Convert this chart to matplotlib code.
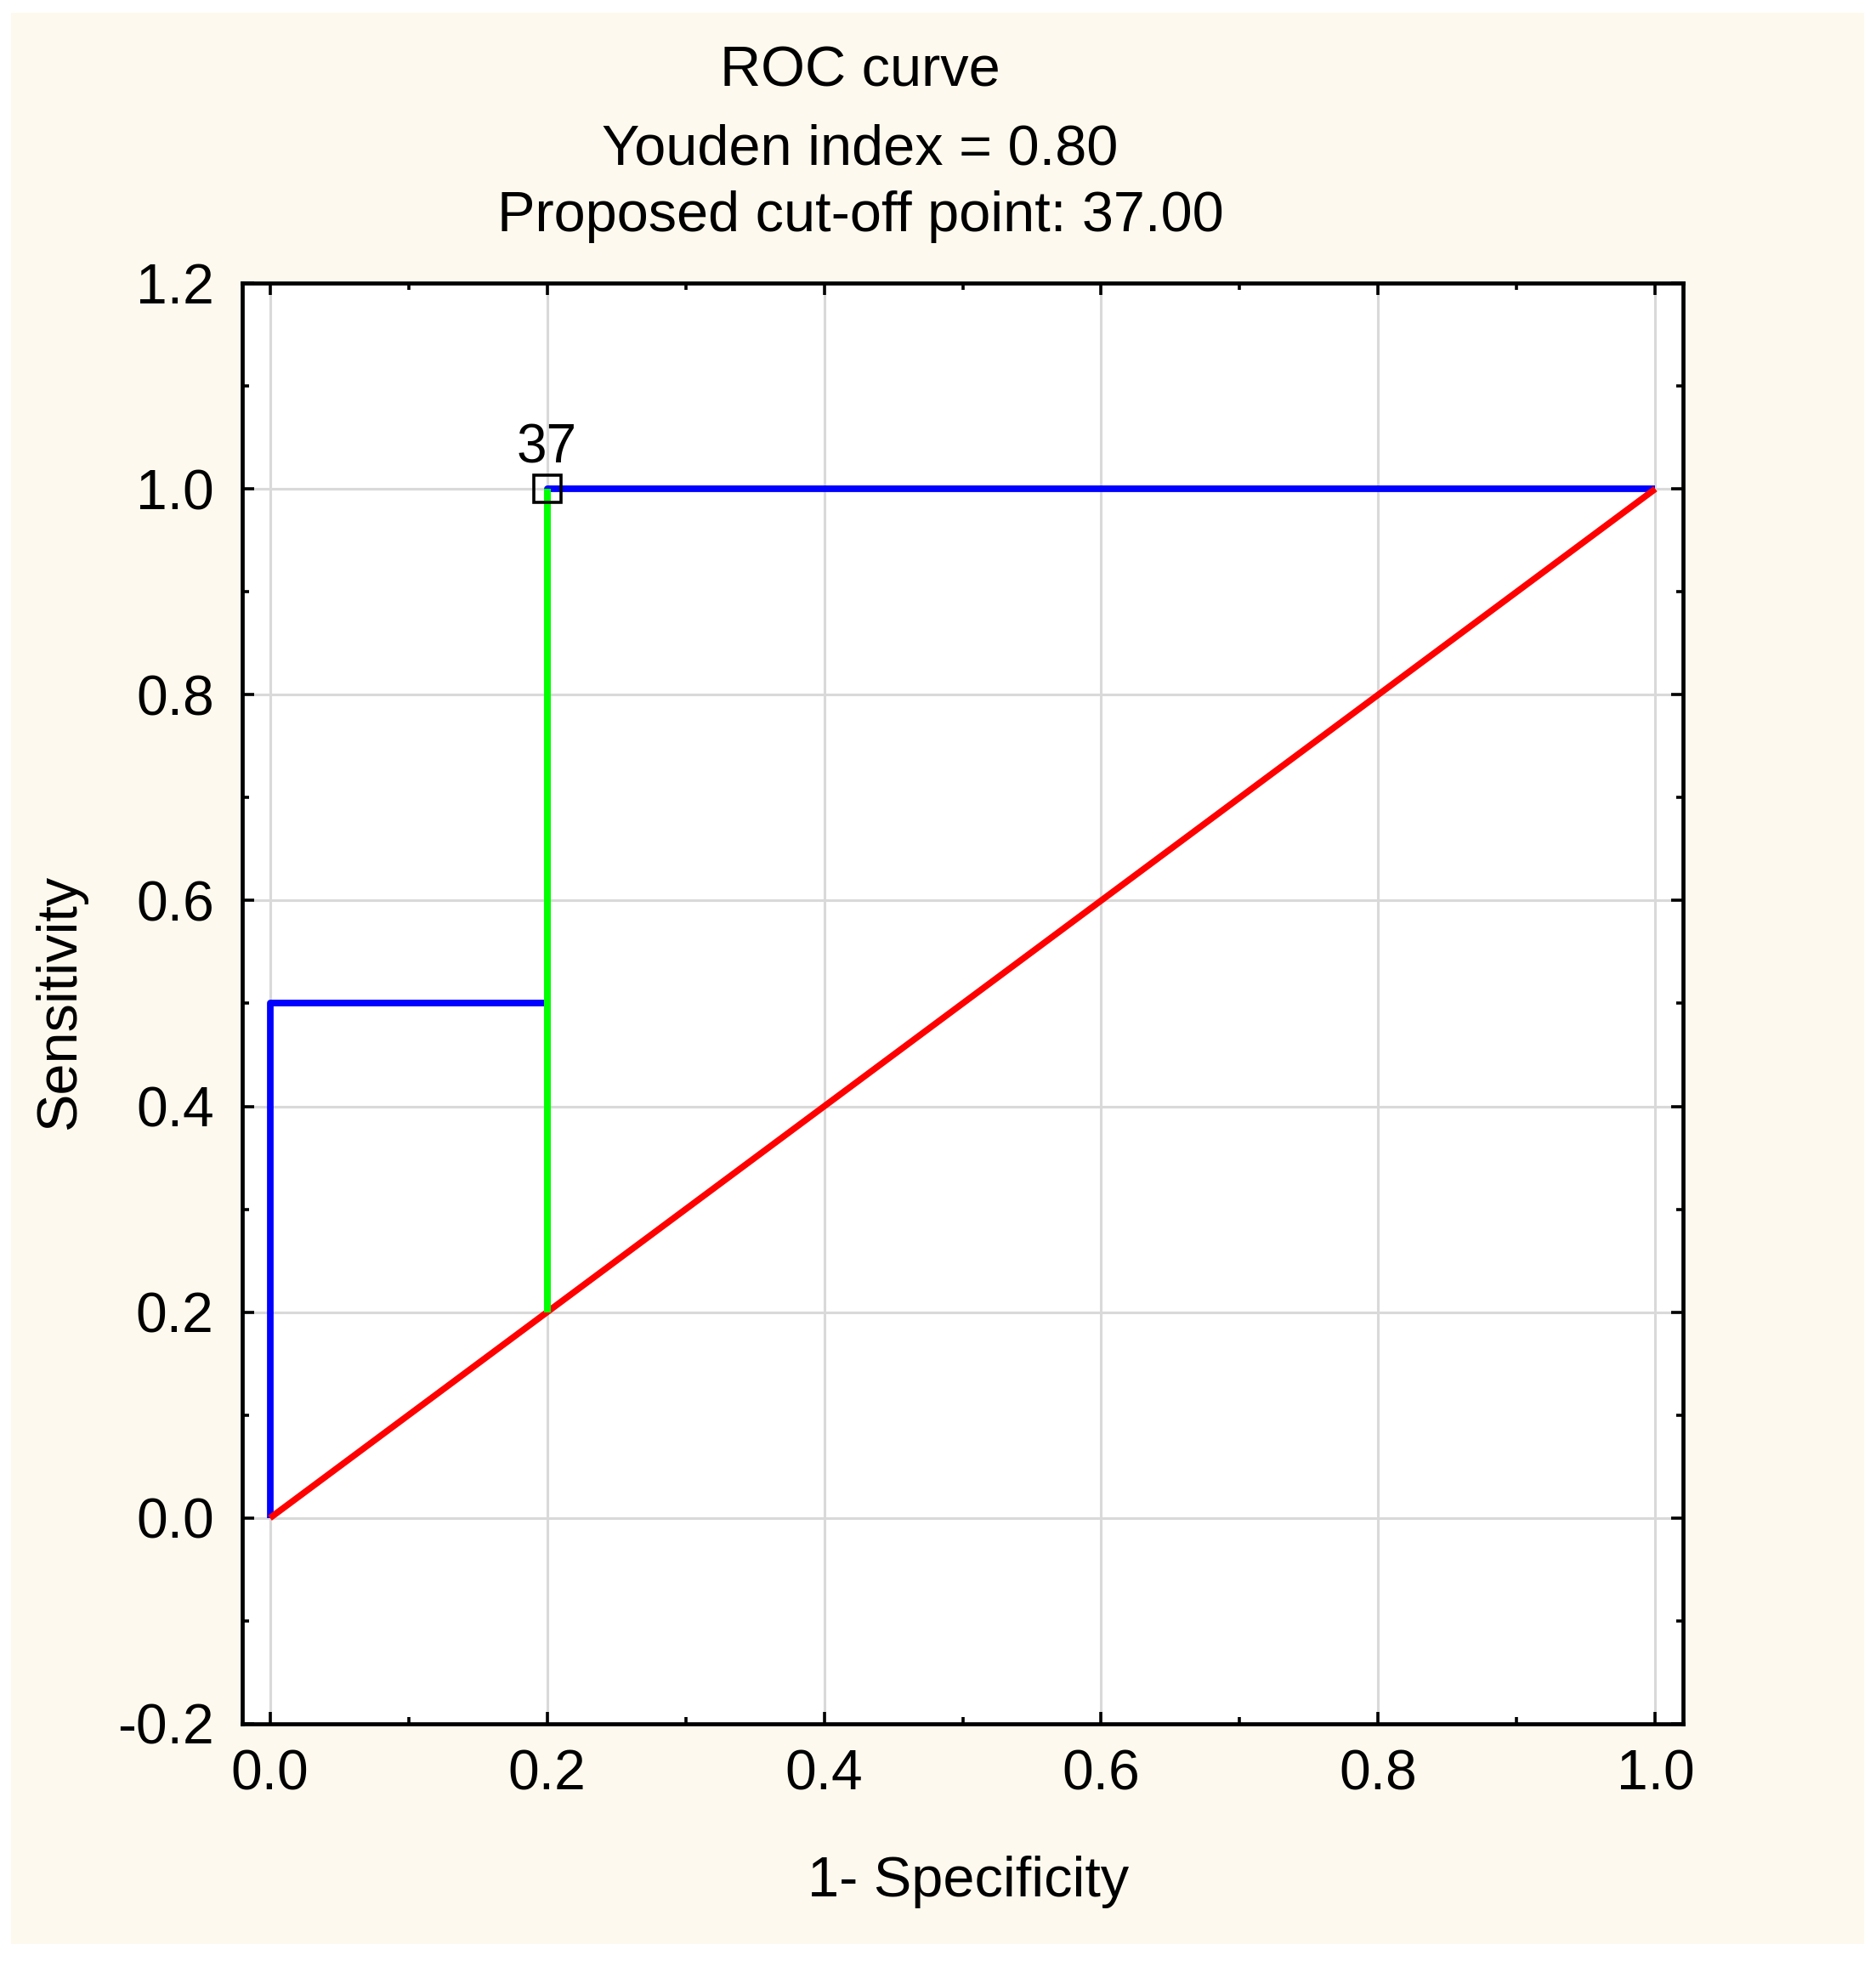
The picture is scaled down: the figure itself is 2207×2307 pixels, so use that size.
import matplotlib
matplotlib.use('Agg')
import matplotlib.pyplot as plt
from matplotlib.patches import Rectangle
from matplotlib.ticker import MultipleLocator

plt.rcParams['font.family'] = ['Liberation Sans', 'DejaVu Sans']

CREAM = '#FDF9EE'

# ROC data
roc_fpr = [0.0, 0.0, 0.2, 0.2, 1.0]
roc_tpr = [0.0, 0.5, 0.5, 1.0, 1.0]
diag_x = [0.0, 1.0]
diag_y = [0.0, 1.0]
youden_x = [0.2, 0.2]
youden_y = [0.2, 1.0]
cut_x, cut_y, cut_label = 0.2, 1.0, '37'
title_lines = ['ROC curve', 'Youden index = 0.80', 'Proposed cut-off point: 37.00']

W, H = 2207, 2307
fig = plt.figure(figsize=(W / 100, H / 100), dpi=100)
fig.patch.set_facecolor('white')
fig.add_artist(Rectangle((13 / W, 1 - 2287 / H), (2193 - 13) / W, (2287 - 15) / H,
                         transform=fig.transFigure, facecolor=CREAM, edgecolor='none', zorder=0))

L, R, T, B = 285, 1980, 333, 2028
ax = fig.add_axes([L / W, 1 - B / H, (R - L) / W, (B - T) / H])
ax.set_facecolor('white')

ax.plot(roc_fpr, roc_tpr, color='#0000FF', lw=5.6, solid_capstyle='butt', zorder=3)
ax.plot(diag_x, diag_y, color='#FF0000', lw=5.4, solid_capstyle='butt', zorder=4)
ax.plot(youden_x, youden_y, color='#00FF00', lw=5.8, solid_capstyle='butt', zorder=5)
ax.plot([cut_x], [cut_y], marker='s', ms=23, mfc='none', mec='black', mew=2.6, zorder=6)
ax.annotate(cut_label, (cut_x, cut_y), xytext=(0, 13), textcoords='offset points',
            ha='center', va='bottom', fontsize=46, zorder=7)

ax.set_xlim(-0.02, 1.02)
ax.set_ylim(-0.2, 1.2)
ax.xaxis.set_major_locator(MultipleLocator(0.2))
ax.xaxis.set_minor_locator(MultipleLocator(0.1))
ax.yaxis.set_major_locator(MultipleLocator(0.2))
ax.yaxis.set_minor_locator(MultipleLocator(0.1))
ax.xaxis.set_major_formatter(lambda v, p: f'{v:.1f}')
ax.yaxis.set_major_formatter(lambda v, p: f'{v:.1f}')
ax.grid(True, which='major', color='#D9D9D9', lw=2.2, zorder=1)
ax.set_axisbelow(True)

ax.tick_params(which='both', direction='in', top=True, right=True, width=2.6, colors='black')
ax.tick_params(which='major', length=10, labelsize=47.5)
ax.tick_params(which='minor', length=6)
ax.tick_params(axis='x', which='major', pad=21)
ax.tick_params(axis='y', which='major', pad=24)
for s in ax.spines.values():
    s.set_linewidth(3.4)
    s.set_color('black')

ax.set_xlabel('1- Specificity', fontsize=48)
ax.xaxis.label.set_va('baseline')
ax.xaxis.set_label_coords((1139 - L) / (R - L), -(2231 - B) / (B - T))
ax.set_ylabel('Sensitivity', fontsize=48)
ax.yaxis.label.set_va('baseline')
ax.yaxis.set_label_coords(-(L - 88) / (R - L), (B - 1179) / (B - T))

for txt, ybase in zip(title_lines, [102, 194, 272]):
    fig.text(1012 / W, 1 - ybase / H, txt, ha='center', va='baseline', fontsize=48)

fig.savefig('out.png', dpi=100, facecolor='white')
